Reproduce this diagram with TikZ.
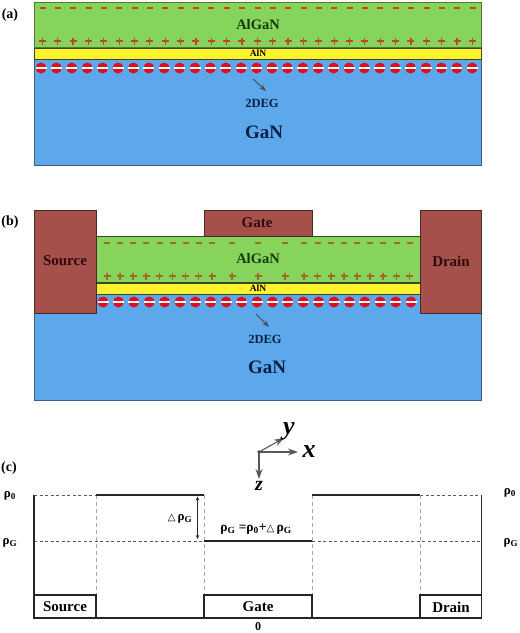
\documentclass[tikz,border=0pt]{standalone}
\usepackage{fontspec}
\setmainfont{Liberation Serif}
\newfontfamily\symf{DejaVu Sans}
\usetikzlibrary{arrows.meta}
\definecolor{grn}{HTML}{86D45C}
\definecolor{yel}{HTML}{FFF22E}
\definecolor{blu}{HTML}{5CA8EA}
\definecolor{brk}{HTML}{A5504A}
\definecolor{edgeb}{HTML}{3F5F80}
\definecolor{edgeg}{HTML}{4F7A30}
\definecolor{edgey}{HTML}{3A4A20}
\definecolor{edgebr}{HTML}{4A2A28}
\definecolor{chga}{HTML}{C0481E}
\definecolor{chgb}{HTML}{A06A28}
\definecolor{red2}{HTML}{DC1020}
\definecolor{navy}{HTML}{0A1F44}
\definecolor{dgreen}{HTML}{143A10}
\definecolor{dbrown}{HTML}{300A0C}
\newcommand{\tri}{{\symf\mdseries\fontsize{10}{10}\selectfont △}}
\tikzset{
 x=1pt,y=-1pt,
 layer/.style={draw=#1,line width=1pt},
 metal/.style={draw=edgebr,fill=brk,line width=1pt},
 lab/.style={font=\bfseries\fontsize{#1}{#1}\selectfont,inner sep=0pt},
 axlab/.style={font=\bfseries\itshape\fontsize{#1}{#1}\selectfont,inner sep=0pt},
 chargeline/.style={draw=#1,line width=1.2pt},
 elec/.style={fill=red2,draw=none},
 dashg/.style={draw=black!35,dash pattern=on 4pt off 3pt,line width=1pt},
 dashk/.style={draw=black!65,dash pattern=on 3pt off 2.5pt,line width=.8pt},
 thick1/.style={draw=black!85,line width=1.5pt},
 arr/.style={draw=black!70,line width=.9pt,-{Stealth[length=7pt,width=5pt]}},
 axarr/.style={draw=black!65,line width=1.1pt,-{Stealth[length=10pt,width=7pt]}},
 dblarr/.style={draw=black!85,line width=.7pt,{Stealth[length=4pt,width=3.5pt]}-{Stealth[length=4pt,width=3.5pt]}},
 cbox/.style={draw=black!85,line width=1.2pt},
}
\newcommand{\elecat}[2]{\fill[elec] (#1,#2) circle (5.5); \draw[white,line width=1.1pt] (#1-5.5,#2) -- (#1+5.5,#2);}
\newcommand{\plusat}[3]{\draw[chargeline=#3] (#1-3.5,#2) -- (#1+3.5,#2) (#1,#2-3.5) -- (#1,#2+3.5);}
\newcommand{\minusat}[3]{\draw[chargeline=#3] (#1-3,#2) -- (#1+3,#2);}
\begin{document}
\begin{tikzpicture}
\useasboundingbox (0,0) rectangle (520,633);
% (a)
\node[lab=14] (la) at (10,15) {(a)};
\filldraw[layer=edgeb,fill=blu] (34.5,59) rectangle (481,165);
\filldraw[layer=edgeg,fill=grn] (34.5,2) rectangle (481,47.5);
\filldraw[layer=edgey,fill=yel,line width=.6pt] (34.5,48.5) rectangle (481,59);
\foreach \i in {0,...,28}{\pgfmathsetmacro\xx{41+15.4*\i}\elecat{\xx}{68}}
\foreach \i in {0,...,28}{\pgfmathsetmacro\xx{42.3+15.36*\i}\plusat{\xx}{41}{chga}}
\foreach \i in {0,...,28}{\pgfmathsetmacro\xx{42.5+15.36*\i}\minusat{\xx}{8}{chga}}
\node[lab=14.5,text=dgreen] (alg1) at (258,25) {AlGaN};
\node[lab=9.5,text=black] (ain1) at (258,53.5) {AlN};
\node[lab=12.5,text=navy] (deg1) at (262,103) {2DEG};
\coordinate (d1s) at (253,79);
\coordinate (d1e) at (266,91);
\draw[arr] (d1s) -- (d1e);
\node[lab=19,text=navy] (gan1) at (264,132) {GaN};
% (b)
\node[lab=14] (lb) at (10,222) {(b)};
\filldraw[layer=edgeb,fill=blu] (34.5,294) rectangle (481,400);
\filldraw[layer=edgeg,draw=edgey,fill=grn] (96,236) rectangle (420,282);
\filldraw[layer=edgey,fill=yel,line width=.6pt] (96,283) rectangle (420,294);
\draw[metal] (34.5,210) rectangle (96,313);
\draw[metal] (420,210) rectangle (481.5,313);
\draw[metal] (204,210) rectangle (312,236);
\foreach \i in {0,...,20}{\pgfmathsetmacro\xx{103+15.4*\i}\elecat{\xx}{302}}
\foreach \xx in {107,120,133,146,159.5,172.5,185.5,198.5,212,232,258,285,304,317.5,331,344,357,370,383,396.5,409.5}{\plusat{\xx}{276}{chgb}\minusat{\xx}{243}{chgb}}
\node[lab=15,text=dbrown] (src) at (65,261) {Source};
\node[lab=15,text=dbrown] (dr) at (451,261) {Drain};
\node[lab=15,text=dbrown] (gt) at (257,223) {Gate};
\node[lab=14.5,text=dgreen] (alg2) at (258,259) {AlGaN};
\node[lab=9.5,text=black] (ain2) at (258,288) {AlN};
\node[lab=12.5,text=navy] (deg2) at (265,339) {2DEG};
\coordinate (d2s) at (256,314);
\coordinate (d2e) at (269,327);
\draw[arr] (d2s) -- (d2e);
\node[lab=19,text=navy] (gan2) at (267,367) {GaN};
% axes
\coordinate (o) at (259,452);
\coordinate (ax) at (298,452);
\coordinate (ay) at (284,438);
\coordinate (az) at (259,479);
\draw[axarr] (o) -- (ax);
\draw[axarr] (o) -- (ay);
\draw[axarr] (o) -- (az);
\fill[black!70] (o) circle (1.8);
\node[axlab=26] (xl) at (309,452) {x};
\node[axlab=26] (yl) at (289,431) {y};
\node[axlab=20] (zl) at (259,486) {z};
% (c)
\node[lab=14] (lc) at (9,468) {(c)};
\node[lab=13] (r0l) at (10,496) {ρ\textsubscript{0}};
\node[lab=13] (rgl) at (10,543) {ρ\textsubscript{G}};
\node[lab=13] (r0r) at (510,493) {ρ\textsubscript{0}};
\node[lab=13] (rgr) at (511,543) {ρ\textsubscript{G}};
\draw[dashk] (34,495) -- (96,495) (420,495) -- (481.5,495);
\draw[dashk] (34,541) -- (204,541) (312,541) -- (481.5,541);
\draw[dashg] (96,495) -- (96,595) (204,495) -- (204,595) (312,495) -- (312,595) (420,495) -- (420,595);
\draw[thick1] (96,495) -- (204,495) (312,495) -- (420,495) (204,541) -- (312,541);
\draw[cbox] (34,495) -- (34,618) -- (481.5,618) -- (481.5,495);
\node[lab=15] (srcc) at (65,606.5) {Source};
\node[lab=15] (gtc) at (258,606.5) {Gate};
\node[lab=15] (drc) at (451,607) {Drain};
\draw[cbox] (34,595) rectangle (96,618);
\draw[cbox] (204,595) rectangle (312,618);
\draw[cbox] (420,595) rectangle (481.5,618);
\coordinate (dt) at (197.5,496.5);
\coordinate (db) at (197.5,539);
\draw[dblarr] (dt) -- (db);
\node[lab=13] (dl) at (180,519) {\tri\,ρ\textsubscript{G}};
\node[lab=13.5] (eq) at (256,529) {ρ\textsubscript{G} =ρ\textsubscript{0}+\tri\,ρ\textsubscript{G}};
\node[lab=12] (zero) at (258,627) {0};
\draw[black!85,line width=1pt] (258,618) -- (258,616.5);
\end{tikzpicture}
\end{document}
